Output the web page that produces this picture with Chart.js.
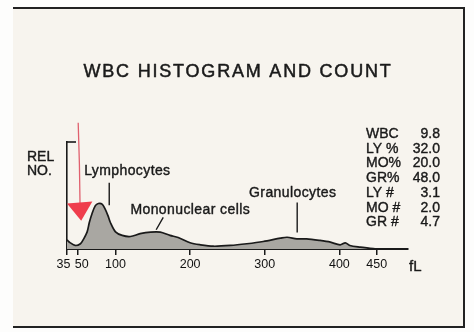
<!DOCTYPE html>
<html>
<head>
<meta charset="utf-8">
<script src="https://cdn.jsdelivr.net/npm/chart.js@4/dist/chart.umd.min.js"></script>
<style>
  html, body { margin: 0; padding: 0; background: #fdfdfc; }
  #wrap { position: relative; width: 474px; height: 332px; overflow: hidden; }
  #paper { position: absolute; left: 13px; top: 7px; width: 450px; height: 317px;
           background: #f7f4ee; border-top: 2px solid #222; border-right: 2px solid #222; border-bottom: 2px solid #222; }
  canvas { position: absolute; left: 0; top: 0; }
</style>
</head>
<body>
<div id="wrap">
  <div id="paper"></div>
  <canvas id="c" width="474" height="332"></canvas>
</div>
<script>
// Cell volume (fL) and relative number
const volumes = [35, 39, 46, 53, 57, 62, 65, 68.5, 73, 77, 82, 86, 90, 93, 100, 109, 120, 133, 147, 160, 173, 184, 200, 214, 231, 254, 276, 298, 321, 330, 343, 356, 374, 388, 401, 408, 414, 428, 441, 450];
const relNo   = [8.5, 6, 3.3, 4.9, 9, 16, 25, 33, 40.5, 42.5, 42, 37.5, 31, 25, 16, 12.7, 11.7, 14.3, 15.8, 15.8, 12.7, 10.8, 5.8, 3.9, 2.6, 3.3, 4.9, 7, 10.1, 11, 9.5, 9.5, 8, 6.4, 3.9, 5.8, 3.3, 1.7, 0.7, 0];
const xTickValues = [35, 50, 100, 200, 300, 400, 450];

const countLabels = ["WBC", "LY %", "MO%", "GR%", "LY #", "MO #", "GR #"];
const countValues = ["9.8", "32.0", "20.0", "48.0", "3.1", "2.0", "4.7"];

const populations = ["Lymphocytes", "Mononuclear cells", "Granulocytes"];

const FONT = '"Liberation Sans", Arial, Helvetica, sans-serif';
const INK = '#1a1a1a';

function inkText(ctx, t, x, y) {
  ctx.fillText(t, x, y);
  ctx.strokeText(t, x, y);
}

const annot = {
  id: 'annot',
  afterDraw(chart) {
    const ctx = chart.ctx;
    const xs = chart.scales.x, ys = chart.scales.y;
    const px = v => xs.getPixelForValue(v), py = v => ys.getPixelForValue(v);
    ctx.save();
    ctx.fillStyle = INK;
    ctx.strokeStyle = INK;
    ctx.lineJoin = 'round';

    // Title
    ctx.lineWidth = 0.5;
    ctx.font = '18px ' + FONT;
    ctx.letterSpacing = '1.8px';
    ctx.textAlign = 'center';
    ctx.textBaseline = 'alphabetic';
    inkText(ctx, 'WBC HISTOGRAM AND COUNT', 238, 77);
    ctx.letterSpacing = '0px';

    // Y axis label
    ctx.lineWidth = 0.4;
    ctx.font = '14px ' + FONT;
    ctx.textAlign = 'left';
    inkText(ctx, 'REL', 27, 161);
    inkText(ctx, 'NO.', 27, 175);

    // fL unit
    ctx.font = '15px ' + FONT;
    inkText(ctx, 'fL', 409, 271);

    // Count table
    ctx.font = '14px ' + FONT;
    for (let i = 0; i < countLabels.length; i++) {
      const by = 138 + i * 14.7;
      ctx.textAlign = 'left';
      inkText(ctx, countLabels[i], 366, by);
      ctx.textAlign = 'right';
      inkText(ctx, countValues[i], 440, by);
    }

    // Population labels (anchored on the data scales)
    ctx.font = '14px ' + FONT;
    ctx.letterSpacing = '0.4px';
    ctx.textAlign = 'left';
    inkText(ctx, populations[0], px(58), py(69));
    inkText(ctx, populations[1], px(120), py(32.5));
    inkText(ctx, populations[2], px(279), py(48.5));
    ctx.letterSpacing = '0px';

    // Y bracket top
    ctx.lineWidth = 1.6;
    ctx.beginPath();
    ctx.moveTo(xs.left, ys.top);
    ctx.lineTo(xs.left + 9, ys.top);
    ctx.stroke();

    // Pointers
    ctx.lineWidth = 1.4;
    ctx.beginPath();
    ctx.moveTo(px(91.6), py(62)); ctx.lineTo(px(91.6), py(41));
    ctx.moveTo(px(164), py(29.5)); ctx.lineTo(px(154.5), py(18));
    ctx.moveTo(px(343.5), py(43.5)); ctx.lineTo(px(343.5), py(15.5));
    ctx.stroke();

    // Hand-drawn red arrow
    ctx.strokeStyle = '#e0606e';
    ctx.lineWidth = 1.3;
    ctx.beginPath();
    ctx.moveTo(px(50), py(118));
    ctx.quadraticCurveTo(px(52), py(80), px(52.5), py(40));
    ctx.stroke();
    ctx.fillStyle = '#ef3d4c';
    ctx.beginPath();
    ctx.moveTo(px(35), py(42.5));
    ctx.lineTo(px(69), py(44.5));
    ctx.lineTo(px(54), py(26.5));
    ctx.closePath();
    ctx.fill();
    ctx.restore();
  }
};

new Chart(document.getElementById('c'), {
  type: 'line',
  data: {
    datasets: [{
      data: volumes.map((v, i) => ({ x: v, y: relNo[i] })),
      borderColor: INK,
      borderWidth: 1.7,
      backgroundColor: '#a9a7a2',
      fill: 'origin',
      pointRadius: 0,
      tension: 0.3
    }]
  },
  options: {
    responsive: false,
    animation: false,
    layout: { padding: { left: 67, right: 66, top: 142, bottom: 53 } },
    plugins: { legend: { display: false }, tooltip: { enabled: false }, title: { display: false } },
    scales: {
      x: {
        type: 'linear',
        min: 35, max: 492,
        afterBuildTicks: s => { s.ticks = xTickValues.map(v => ({ value: v })); },
        afterFit: s => { s.height = 30; },
        grid: { display: true, drawOnChartArea: false, tickLength: 6, color: INK, lineWidth: 1.5 },
        border: { display: true, color: INK, width: 2 },
        ticks: {
          autoSkip: false, maxRotation: 0, padding: 2, color: '#111',
          font: { family: FONT, size: 12.5 },
          callback: v => v === 35 ? '35  ' : (v === 50 ? '  50' : String(v))
        }
      },
      y: {
        min: 0, max: 100,
        afterFit: s => { s.width = 0; },
        grid: { display: false },
        border: { display: true, color: INK, width: 1.6 },
        ticks: { display: false }
      }
    }
  },
  plugins: [annot]
});
</script>
</body>
</html>
